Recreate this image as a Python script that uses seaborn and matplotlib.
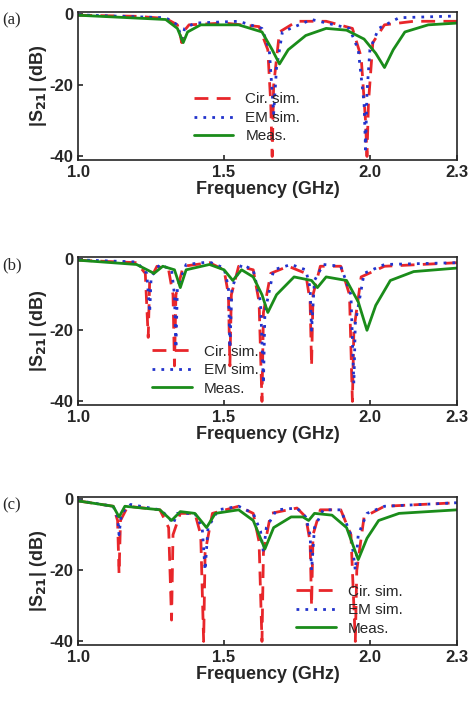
import numpy as np
import pandas as pd
import seaborn as sns
import matplotlib
matplotlib.use('Agg')
import matplotlib.pyplot as plt

# (frequency GHz, |S21| dB) points
cir_a = [(1.0,-0.3),(1.2,-0.6),(1.3,-1.2),(1.34,-3),(1.35,-6),(1.355,-8),(1.36,-5),(1.38,-3),(1.5,-2.5),(1.62,-3.5),(1.65,-10),(1.66,-25),(1.665,-40),(1.67,-20),(1.69,-5),(1.75,-2),(1.85,-2),(1.94,-4),(1.97,-12),(1.985,-30),(1.99,-40),(1.995,-25),(2.01,-8),(2.05,-3),(2.15,-2),(2.3,-2)]
em_a = [(1.0,-0.2),(1.3,-1),(1.34,-3),(1.355,-7),(1.365,-4),(1.4,-2.5),(1.55,-2),(1.63,-4),(1.655,-10),(1.67,-28),(1.68,-15),(1.7,-5),(1.8,-1.5),(1.93,-4),(1.96,-10),(1.98,-25),(1.985,-38),(1.99,-22),(2.0,-10),(2.03,-4),(2.1,-1),(2.3,-0.5)]
meas_a = [(1.0,-0.3),(1.3,-1.5),(1.34,-4),(1.36,-8),(1.375,-5),(1.42,-3),(1.55,-3),(1.63,-5),(1.665,-10),(1.69,-14),(1.72,-10),(1.78,-6),(1.85,-4),(1.92,-4.5),(1.98,-7),(2.02,-11),(2.05,-15),(2.08,-10),(2.12,-5),(2.2,-3),(2.3,-2.5)]

cir_b = [(1.0,-0.3),(1.2,-1),(1.23,-4),(1.24,-22),(1.245,-6),(1.27,-2),(1.31,-3),(1.325,-10),(1.33,-30),(1.335,-10),(1.36,-2),(1.45,-1),(1.5,-3),(1.515,-10),(1.52,-30),(1.525,-10),(1.55,-2),(1.6,-3),(1.62,-12),(1.63,-40),(1.635,-15),(1.66,-4),(1.72,-2),(1.78,-4),(1.795,-12),(1.8,-30),(1.805,-10),(1.83,-2),(1.9,-2),(1.93,-10),(1.94,-40),(1.945,-20),(1.97,-5),(2.05,-2),(2.3,-1)]
em_b = [(1.0,-0.2),(1.2,-0.8),(1.235,-4),(1.245,-15),(1.25,-5),(1.28,-1.5),(1.32,-3),(1.33,-10),(1.335,-25),(1.34,-8),(1.37,-1.5),(1.45,-0.8),(1.5,-2.5),(1.515,-8),(1.52,-25),(1.527,-8),(1.56,-1.5),(1.6,-3),(1.625,-12),(1.635,-35),(1.64,-15),(1.67,-3),(1.73,-1.5),(1.78,-3),(1.795,-8),(1.8,-20),(1.81,-6),(1.84,-1.5),(1.9,-2),(1.935,-10),(1.945,-35),(1.95,-18),(1.98,-4),(2.05,-1.5),(2.3,-1)]
meas_b = [(1.0,-0.3),(1.2,-1.5),(1.26,-4),(1.29,-2),(1.33,-3),(1.35,-8),(1.37,-3),(1.45,-1.5),(1.5,-3),(1.53,-6),(1.56,-3),(1.6,-5),(1.63,-10),(1.65,-15),(1.68,-10),(1.74,-5),(1.8,-6),(1.82,-8),(1.85,-5),(1.92,-6),(1.96,-12),(1.99,-20),(2.02,-13),(2.07,-6),(2.15,-3.5),(2.3,-2.5)]

cir_c = [(1.0,-0.5),(1.12,-2),(1.135,-6),(1.14,-21),(1.145,-6),(1.17,-2),(1.28,-3),(1.31,-8),(1.32,-34),(1.325,-10),(1.35,-4),(1.4,-4),(1.42,-10),(1.43,-40),(1.435,-15),(1.46,-4),(1.55,-2),(1.6,-4),(1.62,-12),(1.63,-40),(1.635,-15),(1.66,-4),(1.75,-2.5),(1.78,-5),(1.795,-12),(1.8,-30),(1.805,-10),(1.83,-3),(1.9,-3),(1.935,-10),(1.95,-40),(1.955,-20),(1.98,-5),(2.05,-2),(2.3,-1)]
em_c = [(1.0,-0.4),(1.12,-2),(1.135,-5),(1.14,-10),(1.148,-4),(1.18,-1.5),(1.28,-3),(1.31,-5),(1.325,-7),(1.34,-4),(1.4,-4),(1.425,-8),(1.435,-20),(1.445,-8),(1.48,-3),(1.55,-2),(1.6,-4),(1.625,-9),(1.635,-15),(1.645,-8),(1.68,-3),(1.75,-2.5),(1.78,-5),(1.795,-10),(1.8,-20),(1.81,-8),(1.84,-3),(1.9,-3),(1.935,-10),(1.95,-20),(1.96,-10),(1.99,-4),(2.05,-2),(2.3,-1)]
meas_c = [(1.0,-0.5),(1.12,-2),(1.14,-5),(1.16,-2),(1.28,-3),(1.32,-6),(1.35,-3.5),(1.4,-4),(1.44,-8),(1.47,-4),(1.55,-3),(1.6,-6),(1.64,-14),(1.67,-8),(1.73,-5),(1.77,-5),(1.79,-6),(1.81,-4),(1.87,-4.5),(1.92,-8),(1.96,-17),(1.99,-11),(2.03,-6),(2.1,-4),(2.3,-3)]

panels = [('(a)', cir_a, em_a, meas_a, (0.28, 0.05)),
          ('(b)', cir_b, em_b, meas_b, (0.17, 0.0)),
          ('(c)', cir_c, em_c, meas_c, (0.55, 0.0))]
tops = [0.774, 0.428, 0.089]

sns.set_style('ticks')
plt.rcParams['font.family'] = ['Liberation Sans', 'DejaVu Sans']
plt.rcParams['axes.unicode_minus'] = False
fig = plt.figure(figsize=(4.74, 7.08), dpi=100)

for (lab, cir, em, meas, lpos), bot in zip(panels, tops):
    ax = fig.add_axes([0.165, bot, 0.80, 0.209])
    for pts, name, c, ls in [(cir, 'Cir. sim.', '#e8262a', (0, (5, 3))),
                             (em, 'EM sim.', '#2233cc', (0, (1, 2.2))),
                             (meas, 'Meas.', '#1a8c1a', '-')]:
        df = pd.DataFrame(pts, columns=['f', 's'])
        sns.lineplot(data=df, x='f', y='s', ax=ax, color=c, linestyle=ls,
                     lw=2, label=name, sort=False)
    ax.set_xlim(1.0, 2.3)
    ax.set_ylim(-41, 0.6)
    ax.set_xticks([1.0, 1.5, 2.0, 2.3])
    ax.set_xticklabels(['1.0', '1.5', '2.0', '2.3'])
    ax.set_yticks([0, -20, -40])
    ax.tick_params(direction='in', labelsize=12, width=1.2)
    for t in ax.get_xticklabels() + ax.get_yticklabels():
        t.set_fontweight('bold')
    for s in ax.spines.values():
        s.set_linewidth(1.2)
    ax.set_xlabel('Frequency (GHz)', fontsize=13, fontweight='bold', labelpad=1)
    ax.set_ylabel('|S$_{\\mathbf{21}}$| (dB)', fontsize=13, fontweight='bold', labelpad=0)
    ax.legend(loc='lower left', bbox_to_anchor=lpos, frameon=False,
              fontsize=11, handlelength=2.6, borderaxespad=0.2, labelspacing=0.3)
    fig.text(0.005, bot + 0.209, lab, fontsize=12, family='Liberation Serif',
             va='top', ha='left')

fig.savefig('out.png', dpi=100)
